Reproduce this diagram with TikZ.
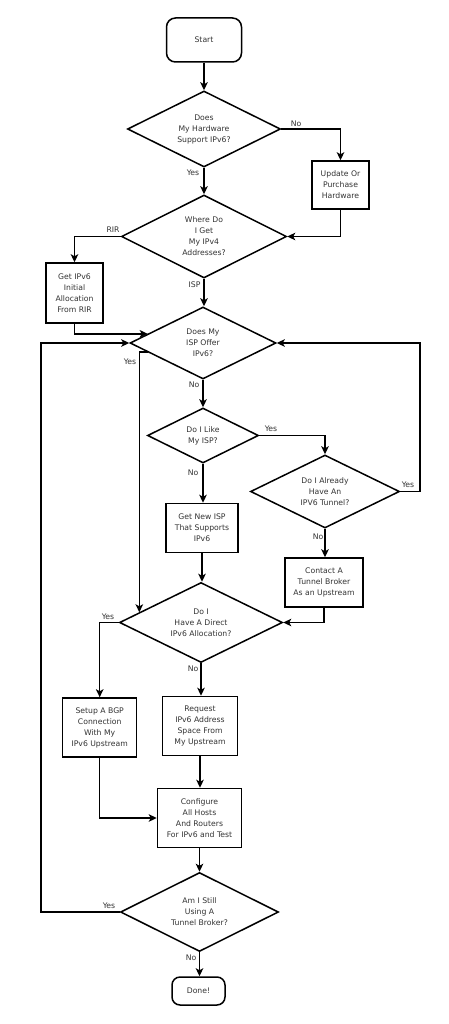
\documentclass[tikz,border=0pt]{standalone}
\usepackage{fontspec}
\setmainfont{DejaVu Sans}
\usetikzlibrary{shapes.geometric,arrows.meta,calc}
\begin{document}
\begin{tikzpicture}[x=1pt,y=-1pt,
 every node/.style={font=\fontsize{7.7}{11}\selectfont, text=black!80},
 box/.style={draw=black, line width=1.5pt, rectangle, inner sep=0pt, align=center},
 term/.style={box, rounded corners=9pt},
 dec/.style={draw=black, line width=1.5pt, diamond, inner sep=0pt, align=center, aspect=2},
 lbl/.style={inner sep=0pt},
 conn/.style={line width=1.5pt, -{Stealth[length=8pt,width=7.5pt,inset=2pt]}}]
\fill[white] (0,0) rectangle (448,1024);
\useasboundingbox (0,0) rectangle (448,1024);

\node[term, minimum width=75pt, minimum height=44pt] (start) at (204,40) {Start};
\node[dec, minimum width=153pt, minimum height=76pt] (hw) at (204,129) {Does\\My Hardware\\Support IPv6?};
\node[box, minimum width=57pt, minimum height=48pt] (update) at (340.5,185) {Update Or\\Purchase\\Hardware};
\node[dec, minimum width=165pt, minimum height=83pt] (where) at (204,236.5) {Where Do\\I Get\\My IPv4\\Addresses?};
\node[box, minimum width=57pt, minimum height=60pt] (rir) at (74.5,293) {Get IPv6\\Initial\\Allocation\\From RIR};
\node[dec, minimum width=146pt, minimum height=72pt] (isp) at (203,343) {Does My\\ISP Offer\\IPv6?};
\node[dec, minimum width=111pt, minimum height=55pt] (like) at (203,435.5) {Do I Like\\My ISP?};
\node[dec, minimum width=149pt, minimum height=73pt] (tunnel) at (325,491.5) {Do I Already\\Have An\\IPV6 Tunnel?};
\node[box, minimum width=72pt, minimum height=49pt] (newisp) at (202,528) {Get New ISP\\That Supports\\IPv6};
\node[box, minimum width=78pt, minimum height=49pt] (broker) at (324,582.5) {Contact A\\Tunnel Broker\\As an Upstream};
\node[dec, minimum width=163pt, minimum height=80pt] (direct) at (201,622.5) {Do I\\Have A Direct\\IPv6 Allocation?};
\node[box, minimum width=74pt, minimum height=59pt] (bgp) at (99.7,727.5) {Setup A BGP\\Connection\\With My\\IPv6 Upstream};
\node[box, minimum width=75pt, minimum height=59pt] (request) at (200,726) {Request\\IPv6 Address\\Space From\\My Upstream};
\node[box, minimum width=84pt, minimum height=59pt] (config) at (199.5,818) {Configure\\All Hosts\\And Routers\\For IPv6 and Test};
\node[dec, minimum width=158pt, minimum height=79pt] (still) at (199.5,912) {Am I Still\\Using A\\Tunnel Broker?};
\node[term, minimum width=53pt, minimum height=28pt, rounded corners=8pt] (done) at (198.5,991) {Done!};

\coordinate (loopL) at (41,0);
\coordinate (loopR) at (420,0);

\draw[conn] (start) -- (start.south |- hw.north);
\draw[conn] (hw.east) -| (update);
\draw[conn] (hw.south) -- (hw.south |- where.north);
\draw[conn] (update) |- (where.east);
\draw[conn] (where.west) -| (rir);
\draw[conn] (where.south) -- (where.south |- isp.north);
\draw[conn] (rir) |- ($(isp.west)!0.25!(isp.north)$);
\draw[conn] (still.west) -- (still.west -| loopL) |- (isp.west);
\draw[conn] (tunnel.east) -- (tunnel.east -| loopR) |- (isp.east);
\draw[conn] ($(isp.west)!0.25!(isp.south)$) -| ($(direct.west)!0.25!(direct.north)$);
\draw[conn] (isp.south) -- (isp.south |- like.north);
\draw[conn] (like.east) -| (tunnel);
\draw[conn] (like.south) -- (like.south |- newisp.north);
\draw[conn] (newisp.south) -- (newisp.south |- direct.north);
\draw[conn] (tunnel.south) -- (tunnel.south |- broker.north);
\draw[conn] (broker.south) |- (direct.east);
\draw[conn] (direct.west) -| (bgp.north);
\draw[conn] (direct.south) -- (direct.south |- request.north);
\draw[conn] (request.south) -- (request.south |- config.north);
\draw[conn] (bgp.south) |- (config.west);
\draw[conn] (config.south) -- (config.south |- still.north);
\draw[conn] (still.south) -- (still.south |- done.north);

\node[lbl] (l1) at (296,124) {No};
\node[lbl] (l2) at (193,173) {Yes};
\node[lbl] (l3) at (113,230) {RIR};
\node[lbl] (l4) at (194.5,285) {ISP};
\node[lbl] (l5) at (130,362) {Yes};
\node[lbl] (l6) at (194,385) {No};
\node[lbl] (l7) at (271,429) {Yes};
\node[lbl] (l8) at (193,473) {No};
\node[lbl] (l9) at (408,485) {Yes};
\node[lbl] (l10) at (318,537) {No};
\node[lbl] (l11) at (108,617) {Yes};
\node[lbl] (l12) at (193,669) {No};
\node[lbl] (l13) at (109,906) {Yes};
\node[lbl] (l14) at (191,958) {No};
\end{tikzpicture}
\end{document}
